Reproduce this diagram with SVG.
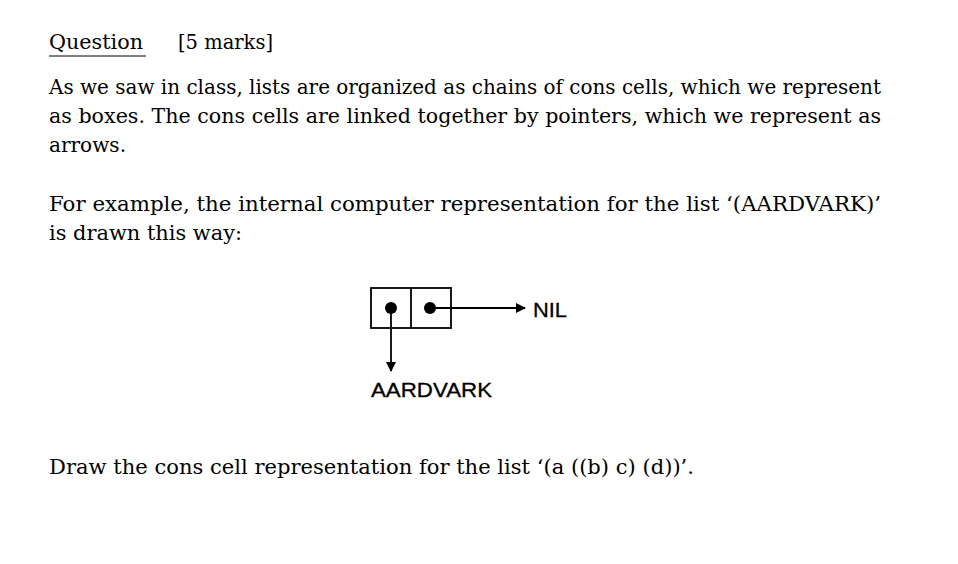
<svg xmlns="http://www.w3.org/2000/svg" width="958" height="564" viewBox="0 0 958 564">
<style>
.t{font-family:"DejaVu Serif","Liberation Serif",serif;font-size:20px;fill:#000}
.s{font-family:"Liberation Sans",Arial,sans-serif;font-size:20px;fill:#000;stroke:#000;stroke-width:0.3}
.l{stroke:#000;stroke-width:1.8;fill:none}
</style>
<defs><marker id="a" markerWidth="10" markerHeight="10" refX="9" refY="5" orient="auto" markerUnits="userSpaceOnUse"><path d="M0,0L10,5L0,10z" fill="#000"/></marker></defs>
<rect width="958" height="564" fill="#fff"/>
<text class="t" x="49" y="49" textLength="94" lengthAdjust="spacingAndGlyphs">Question</text>
<line x1="49" y1="56" x2="146" y2="56" stroke="#000" stroke-width="1"/>
<text class="t" x="178" y="49" textLength="95" lengthAdjust="spacingAndGlyphs">[5 marks]</text>
<text class="t" x="49" y="94" textLength="832" lengthAdjust="spacingAndGlyphs">As we saw in class, lists are organized as chains of cons cells, which we represent</text>
<text class="t" x="49" y="123" textLength="832" lengthAdjust="spacingAndGlyphs">as boxes. The cons cells are linked together by pointers, which we represent as</text>
<text class="t" x="49" y="152" textLength="77" lengthAdjust="spacingAndGlyphs">arrows.</text>
<text class="t" x="49" y="211" textLength="832" lengthAdjust="spacingAndGlyphs">For example, the internal computer representation for the list ‘(AARDVARK)’</text>
<text class="t" x="49" y="240" textLength="193" lengthAdjust="spacingAndGlyphs">is drawn this way:</text>
<text class="t" x="49" y="474" textLength="645" lengthAdjust="spacingAndGlyphs">Draw the cons cell representation for the list ‘(a ((b) c) (d))’.</text>
<g id="cell">
<rect x="371" y="288" width="80" height="40" class="l"/>
<line x1="411" y1="288" x2="411" y2="328" class="l"/>
<circle cx="391" cy="308" r="6" fill="#000"/>
<circle cx="430" cy="308" r="6" fill="#000"/>
</g>
<g id="connectors">
<line x1="430" y1="308" x2="525" y2="308" class="l" marker-end="url(#a)"/>
<line x1="391" y1="308" x2="391" y2="371" class="l" marker-end="url(#a)"/>
</g>
<g id="nil"><text class="s" x="533" y="317" textLength="34" lengthAdjust="spacingAndGlyphs">NIL</text></g>
<g id="aardvark"><text class="s" x="371" y="397" textLength="121" lengthAdjust="spacingAndGlyphs">AARDVARK</text></g>
</svg>
